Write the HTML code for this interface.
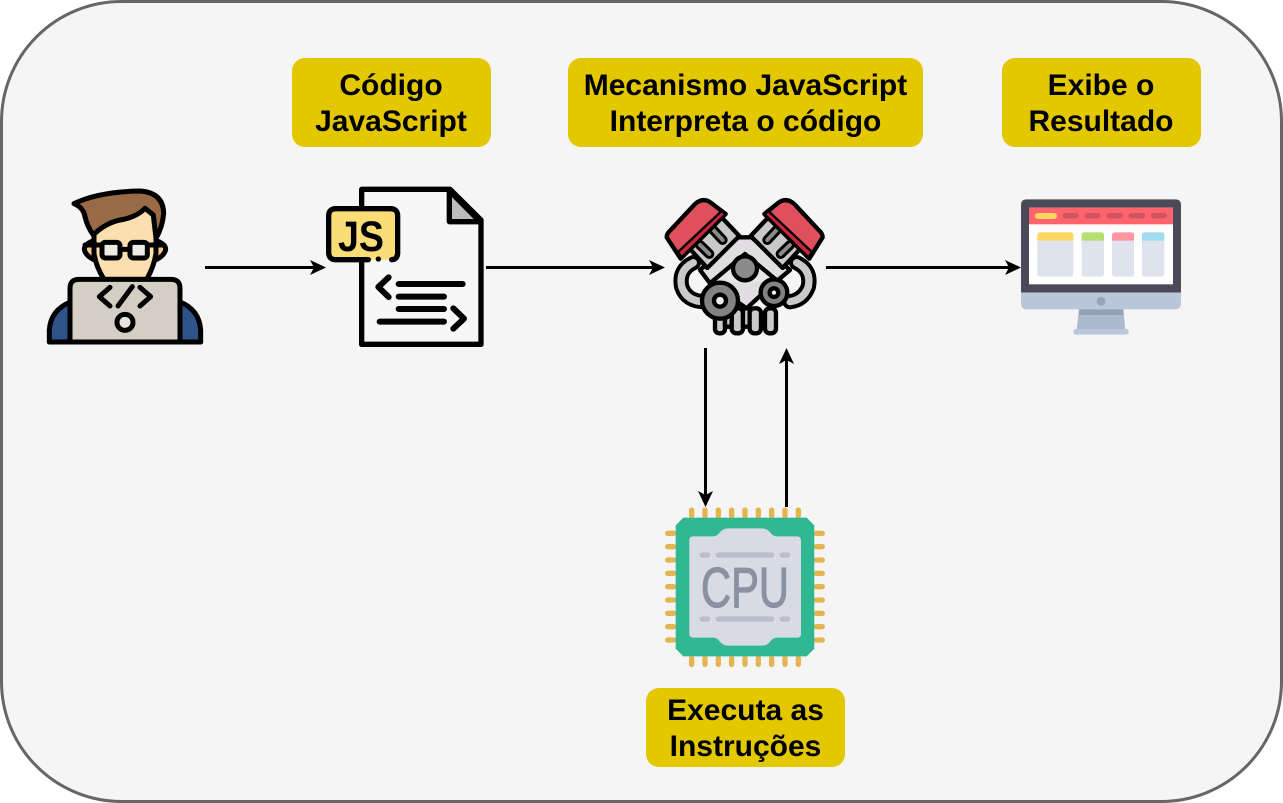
<!DOCTYPE html>
<html><head><meta charset="utf-8">
<style>html,body{margin:0;padding:0;background:#fff}svg{display:block}
.l{font:bold 30px "Liberation Sans",sans-serif;fill:#000;text-anchor:middle}</style></head>
<body>
<svg width="1283" height="803" viewBox="0 0 1283 803" xmlns="http://www.w3.org/2000/svg">
<rect x="1.500" y="1.500" width="1280" height="800" rx="120" fill="#f5f5f5" stroke="#666" stroke-width="3"/>

<rect x="292" y="58" width="199" height="89" rx="13" fill="#e3c800"/>
<rect x="568" y="58" width="355" height="89" rx="13" fill="#e3c800"/>
<rect x="1002" y="58" width="199" height="89" rx="13" fill="#e3c800"/>
<rect x="646" y="688" width="199" height="79" rx="13" fill="#e3c800"/>
<text class="l" x="391" y="95">Código</text><text class="l" x="391" y="131">JavaScript</text>
<text class="l" x="745.500" y="95">Mecanismo JavaScript</text><text class="l" x="745.500" y="131">Interpreta o código</text>
<text class="l" x="1101" y="95">Exibe o</text><text class="l" x="1101" y="131">Resultado</text>
<text class="l" x="745.500" y="720">Executa as</text><text class="l" x="745.500" y="756">Instruções</text>

<!-- person -->
<g transform="translate(30 170) scale(.3333)" stroke="#000" stroke-width="15" stroke-linejoin="round" stroke-linecap="round">
<path d="M58 516V480Q62 420 122 396V516Z" fill="#2f5288"/>
<path d="M450 396Q508 420 512 480V516H450Z" fill="#2f5288"/>
<path d="M192 212Q163 222 163 238Q166 258 198 272Z" fill="#f5c98a"/>
<path d="M378 212Q407 222 407 238Q404 258 372 272Z" fill="#f5c98a"/>
<path d="M192 190V250Q198 290 222 328H350Q372 290 378 250V120L345 112Q320 142 270 150Q225 160 192 190Z" fill="#fbdfb0"/>
<path d="M132 101Q205 65 330 63Q400 68 401 130Q398 170 378 205L370 135L345 115Q320 142 270 150Q225 160 190 195Q172 170 165 140Q160 112 132 101Z" fill="#996a46"/>
<rect x="216" y="217" width="54" height="47" rx="10" fill="#ecebe6"/>
<rect x="300" y="217" width="52" height="47" rx="10" fill="#ecebe6"/>
<path d="M165 225H216M270 238H300M352 225H400" fill="none"/>
<path d="M120 516V355Q120 328 147 328H423Q450 328 450 355V516Z" fill="#d4cfc5"/>
<path d="M58 516H512" fill="none"/>
<path d="M240 352L208 380L240 408M330 352L362 380L330 408M307 350L264 408" fill="none"/>
<circle cx="285" cy="457" r="24" fill="#e6e4de"/>
</g>

<!-- JS doc -->
<g transform="translate(310 170) scale(.3333)" stroke="#000" stroke-width="16" stroke-linejoin="round" stroke-linecap="round">
<path d="M155 58H420L513 150V523H155Z" fill="#f7f7f7"/>
<path d="M418 62V155H510Z" fill="#bcbcbc"/>
<path d="M175 269H263V116H56V269Z" fill="#fbdd77" stroke="none"/>
<path d="M175 269H78Q56 269 56 247V138Q56 116 78 116H241Q263 116 263 138V247Q263 269 245 269" fill="none"/>
<path d="M205 267h.1" fill="none"/>
<path d="M236 322L205 351L236 381M266 342H458M266 380H402M266 417H402M209 455H402M430 415L462 446L430 476" fill="none" stroke-width="18"/>
</g>
<text x="338" y="251" font-family="Liberation Sans,sans-serif" font-weight="bold" font-size="43" textLength="46" lengthAdjust="spacingAndGlyphs" fill="#000">JS</text>

<!-- engine -->
<g transform="translate(650 180) scale(.3333)" stroke="#000" stroke-width="13" stroke-linejoin="round" stroke-linecap="round">
<path d="M130 248Q85 270 95 320Q110 365 165 365" fill="none" stroke-width="46"/>
<path d="M130 248Q85 270 95 320Q110 365 165 365" fill="none" stroke="#c9c9c9" stroke-width="22"/>
<path d="M440 248Q485 270 475 320Q460 360 420 365" fill="none" stroke-width="46"/>
<path d="M440 248Q485 270 475 320Q460 360 420 365" fill="none" stroke="#c9c9c9" stroke-width="22"/>
<rect x="195" y="385" width="30" height="75" rx="13" fill="#c9c9c9"/>
<rect x="245" y="385" width="34" height="75" rx="14" fill="#c9c9c9"/>
<rect x="225" y="385" width="20" height="55" fill="#c9c9c9"/>
<rect x="279" y="385" width="20" height="55" fill="#c9c9c9"/>
<rect x="299" y="385" width="34" height="75" rx="14" fill="#c9c9c9"/>
<rect x="345" y="385" width="33" height="75" rx="14" fill="#c9c9c9"/>
<path d="M265 172H305L420 270L355 325L290 385L180 310L150 270Z" fill="#e0dee1"/>
<polygon points="118,205 215,112 268,168 172,264" fill="#c9c9c9"/>
<polygon points="452,205 355,112 302,168 398,264" fill="#c9c9c9"/>
<path d="M150 195L178 222M190 150L218 180M380 150L352 180M420 195L392 222" fill="none" stroke-width="30"/>
<path d="M150 195L178 222M190 150L218 180M380 150L352 180M420 195L392 222" fill="none" stroke="#8a8a8a" stroke-width="12"/>
<path d="M50 172Q50 160 62 150L135 72Q160 50 185 70L227 102L92 236Z" fill="#e0505c"/>
<path d="M518 172Q518 160 506 150L433 72Q408 50 383 70L343 102L478 236Z" fill="#e0505c"/>
<path d="M84 216L215 93L226 103L95 232Z" fill="#c8283a" stroke-width="7"/>
<path d="M486 216L355 93L344 103L475 232Z" fill="#c8283a" stroke-width="7"/>
<path d="M180 310L285 222L385 305" fill="#e8e6e9"/>
<circle cx="285" cy="265" r="36" fill="#8a8a8a"/>
<circle cx="372" cy="338" r="40" fill="#828282"/>
<circle cx="372" cy="338" r="13" fill="#eee"/>
<circle cx="210" cy="362" r="54" fill="#828282"/>
<circle cx="210" cy="362" r="18" fill="#eee"/>
</g>

<!-- monitor -->
<g transform="translate(1005 185) scale(.3333)">
<path d="M48 323V60Q48 43 65 43H511Q528 43 528 60V323Z" fill="#4b4a58"/>
<path d="M48 323H528V355Q528 373 510 373H66Q48 373 48 355Z" fill="#bac6da"/>
<circle cx="288" cy="349" r="13" fill="#96a4b8"/>
<rect x="72" y="68" width="432" height="230" fill="#fff"/>
<rect x="72" y="68" width="432" height="50" fill="#ff636b"/>
<rect x="90" y="84" width="66" height="18" rx="9" fill="#ffd760"/>
<g fill="#cf5561"><rect x="173" y="84" width="48" height="16" rx="8"/><rect x="239" y="84" width="48" height="16" rx="8"/><rect x="305" y="84" width="49" height="16" rx="8"/><rect x="371" y="84" width="49" height="16" rx="8"/><rect x="437" y="84" width="49" height="16" rx="8"/></g>
<g fill="#dfe3ed"><rect x="97" y="142" width="108" height="133" rx="8"/><rect x="230" y="142" width="67" height="133" rx="8"/><rect x="321" y="142" width="66" height="133" rx="8"/><rect x="411" y="142" width="67" height="133" rx="8"/></g>
<path d="M97 167V150Q97 142 105 142H197Q205 142 205 150V167Z" fill="#ffd760"/>
<path d="M230 167V150Q230 142 238 142H289Q297 142 297 150V167Z" fill="#b4e06e"/>
<path d="M321 167V150Q321 142 329 142H379Q387 142 387 150V167Z" fill="#ff96a0"/>
<path d="M411 167V150Q411 142 419 142H470Q478 142 478 150V167Z" fill="#a0dcf0"/>
<path d="M222 373H355L361 433H215Z" fill="#adb9ce"/>
<rect x="222" y="373" width="133" height="17" fill="#94a3b8"/>
<rect x="205" y="432" width="166" height="17" rx="8" fill="#bac6da"/>
</g>

<!-- cpu -->
<g transform="translate(650 495) scale(.3333)">
<g fill="#e5b650">
<rect x="117" y="37" width="16" height="34" rx="8"/><rect x="157" y="37" width="16" height="34" rx="8"/><rect x="197" y="37" width="16" height="34" rx="8"/><rect x="237" y="37" width="16" height="34" rx="8"/><rect x="277" y="37" width="16" height="34" rx="8"/><rect x="317" y="37" width="16" height="34" rx="8"/><rect x="357" y="37" width="16" height="34" rx="8"/><rect x="397" y="37" width="16" height="34" rx="8"/><rect x="437" y="37" width="16" height="34" rx="8"/>
<rect x="117" y="482" width="16" height="34" rx="8"/><rect x="157" y="482" width="16" height="34" rx="8"/><rect x="197" y="482" width="16" height="34" rx="8"/><rect x="237" y="482" width="16" height="34" rx="8"/><rect x="277" y="482" width="16" height="34" rx="8"/><rect x="317" y="482" width="16" height="34" rx="8"/><rect x="357" y="482" width="16" height="34" rx="8"/><rect x="397" y="482" width="16" height="34" rx="8"/><rect x="437" y="482" width="16" height="34" rx="8"/>
<rect x="45" y="107" width="34" height="16" rx="8"/><rect x="45" y="147" width="34" height="16" rx="8"/><rect x="45" y="187" width="34" height="16" rx="8"/><rect x="45" y="227" width="34" height="16" rx="8"/><rect x="45" y="267" width="34" height="16" rx="8"/><rect x="45" y="307" width="34" height="16" rx="8"/><rect x="45" y="347" width="34" height="16" rx="8"/><rect x="45" y="387" width="34" height="16" rx="8"/><rect x="45" y="427" width="34" height="16" rx="8"/>
<rect x="491" y="107" width="34" height="16" rx="8"/><rect x="491" y="147" width="34" height="16" rx="8"/><rect x="491" y="187" width="34" height="16" rx="8"/><rect x="491" y="227" width="34" height="16" rx="8"/><rect x="491" y="267" width="34" height="16" rx="8"/><rect x="491" y="307" width="34" height="16" rx="8"/><rect x="491" y="347" width="34" height="16" rx="8"/><rect x="491" y="387" width="34" height="16" rx="8"/><rect x="491" y="427" width="34" height="16" rx="8"/>
</g>
<polygon points="100,68 470,68 493,91 493,461 470,484 100,484 77,461 77,91" fill="#31b892"/>
<path d="M130 124H190Q200 124 208 114Q218 100 235 100H335Q352 100 362 114Q370 124 380 124H441Q453 124 453 136V416Q453 428 441 428H380Q370 428 362 438Q352 452 335 452H235Q218 452 208 438Q200 428 190 428H130Q118 428 118 416V136Q118 124 130 124Z" fill="#d8dbe4"/>
<g fill="#b9bdcc">
<rect x="149" y="172" width="32" height="16" rx="8"/><rect x="197" y="172" width="176" height="16" rx="8"/><rect x="389" y="172" width="32" height="16" rx="8"/>
<rect x="149" y="364" width="32" height="16" rx="8"/><rect x="197" y="364" width="176" height="16" rx="8"/><rect x="389" y="364" width="32" height="16" rx="8"/>
</g>
</g>
<text x="701" y="607" font-family="Liberation Sans,sans-serif" font-size="57" textLength="88" lengthAdjust="spacingAndGlyphs" fill="#8a91a0" stroke="#8a91a0" stroke-width="1.200">CPU</text>

<!-- arrows -->
<g stroke="#000" stroke-width="3" fill="none">
<path d="M205 267.500H316M486 267.500H655M826 267.500H1011M705.500 348V497M786.500 507V358"/>
</g>
<g fill="#000">
<path d="M326 267.500L310 260L314 267.500L310 275Z"/>
<path d="M665 267.500L649 260L653 267.500L649 275Z"/>
<path d="M1021 267.500L1005 260L1009 267.500L1005 275Z"/>
<path d="M705.500 507L698 491L705.500 495L713 491Z"/>
<path d="M786.500 348L779 364L786.500 360L794 364Z"/>
</g>
</svg>
</body></html>
